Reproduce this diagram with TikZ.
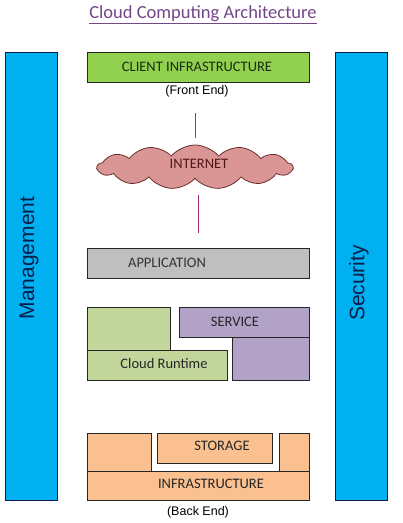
\documentclass[tikz,border=0pt]{standalone}
\usepackage{fontspec}
\setmainfont{Carlito}
\newfontfamily\arialf{Liberation Sans}
\usetikzlibrary{shapes.symbols}
\definecolor{barblue}{HTML}{00B0F0}
\definecolor{clientgreen}{HTML}{92D050}
\definecolor{appgray}{HTML}{BFBFBF}
\definecolor{rtgreen}{HTML}{C3D69B}
\definecolor{svcpurple}{HTML}{B3A2C7}
\definecolor{infraorange}{HTML}{FAC090}
\definecolor{cloudpink}{HTML}{D99694}
\definecolor{cloudline}{RGB}{110,45,45}
\definecolor{linkline}{RGB}{165,40,125}
\definecolor{titlecol}{RGB}{115,70,135}
\definecolor{bartext}{RGB}{10,30,70}
\begin{document}
\begin{tikzpicture}[x=1pt,y=-1pt,
  blk/.style={draw=black!85,line width=0.8pt,inner sep=0pt,outer sep=0pt,anchor=north west},
  sidebar/.style={blk,fill=barblue,draw=bartext},
  boxtext/.style={font=\fontsize{14.5}{16}\selectfont,inner sep=0pt,text=black!85},
  endtext/.style={font=\arialf\fontsize{12.5}{14}\selectfont,inner sep=0pt},
  bartxt/.style={font=\arialf\fontsize{21}{24}\selectfont,inner sep=0pt,rotate=90,text=bartext},
  conn/.style={draw=linkline,line width=0.9pt}]
\useasboundingbox (0,0) rectangle (403,523);
% title
\node[inner sep=0pt,text=titlecol,font=\fontsize{18.5}{20}\selectfont] (title) at (203,15) {\underline{Cloud Computing Architecture}};
% side bars
\node[sidebar,minimum width=52,minimum height=448] (mgmt) at (5,52) {};
\node[bartxt] (mgmtT) at (29,258) {Management};
\node[sidebar,minimum width=52,minimum height=448] (sec) at (335,52) {};
\node[bartxt] (secT) at (359,283) {Security};
% client
\node[blk,fill=clientgreen,minimum width=222,minimum height=30] (client) at (87,52) {};
\node[boxtext,text={rgb,255:red,25;green,45;blue,15}] (clientT) at (197,67) {CLIENT INFRASTRUCTURE};
\node[endtext] (front) at (197,91) {(Front End)};
% internet
\node[cloud,cloud puffs=13,cloud puff arc=100,cloud ignores aspect,draw=cloudline,fill=cloudpink,line width=0.8pt,minimum width=195,minimum height=44,inner sep=0pt] (inet) at (195,167) {};
\node[boxtext,text={rgb,255:red,80;green,25;blue,25}] (inetT) at (199,164) {INTERNET};
\coordinate (l1a) at (195,113);
\coordinate (l1b) at (195,138);
\coordinate (l2a) at (198,195);
\coordinate (l2b) at (198,233);
\draw[conn] (l1a) -- (l1b);
\draw[conn] (l2a) -- (l2b);
% application
\node[blk,fill=appgray,minimum width=222,minimum height=30] (app) at (87,248) {};
\node[boxtext,text=black!80] (appT) at (167,263) {APPLICATION};
% service / runtime
\node[blk,fill=rtgreen,minimum width=83,minimum height=43] (rtTop) at (87,307) {};
\node[blk,fill=rtgreen,minimum width=140,minimum height=30] (rt) at (87,350) {};
\node[boxtext] (rtT) at (164,364) {Cloud Runtime};
\node[blk,fill=svcpurple,minimum width=130,minimum height=30] (svc) at (179,307) {};
\node[blk,fill=svcpurple,minimum width=77,minimum height=43] (svcLow) at (232,337) {};
\node[boxtext] (svcT) at (235,322) {SERVICE};
% storage / infrastructure
\node[blk,fill=infraorange,minimum width=64,minimum height=38] (infL) at (87,433) {};
\node[blk,fill=infraorange,minimum width=30,minimum height=38] (infR) at (279,433) {};
\node[blk,fill=infraorange,minimum width=115,minimum height=30] (stor) at (157,433) {};
\node[boxtext] (storT) at (222,446) {STORAGE};
\node[blk,fill=infraorange,minimum width=222,minimum height=29] (infra) at (87,471) {};
\node[boxtext] (infraT) at (211,484) {INFRASTRUCTURE};
\node[endtext] (back) at (198,512) {(Back End)};
\end{tikzpicture}
\end{document}
